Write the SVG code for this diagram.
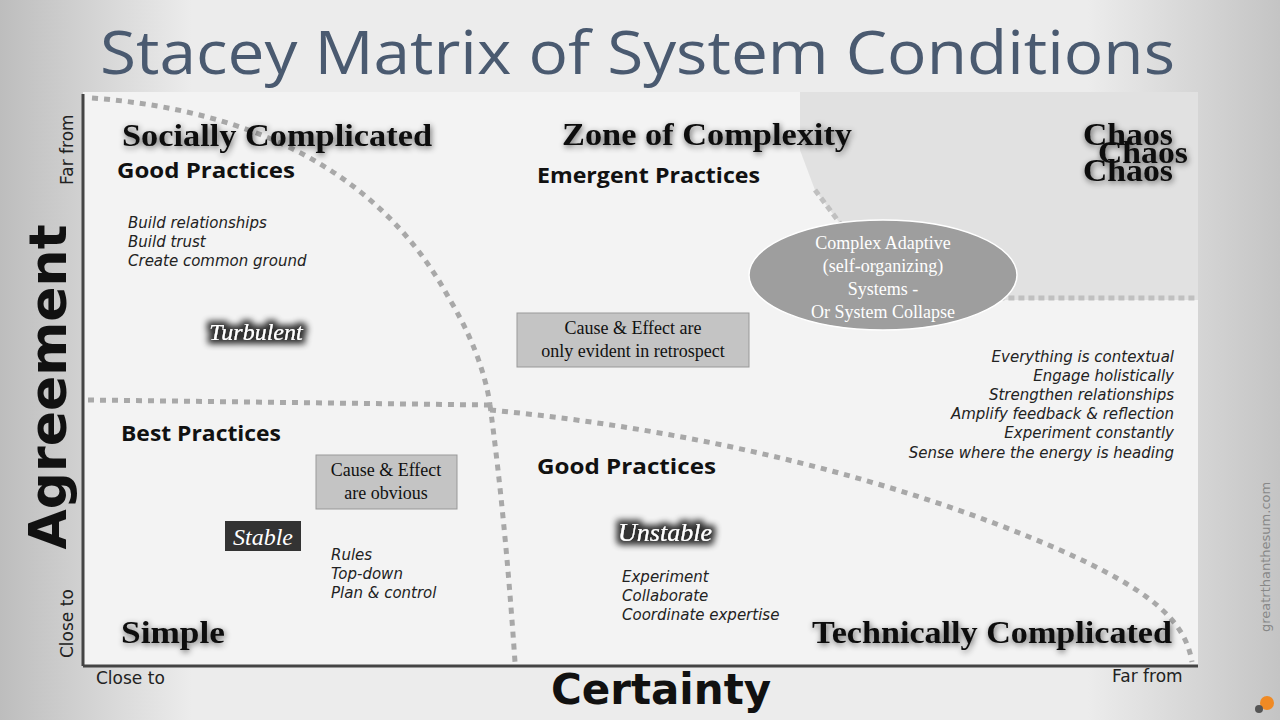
<svg xmlns="http://www.w3.org/2000/svg" width="1280" height="720" viewBox="0 0 1280 720">
<defs>
<linearGradient id="bg" x1="0" y1="0" x2="1" y2="0"><stop offset="0" stop-color="#bdbdbd"/><stop offset="0.15" stop-color="#ececec"/><stop offset="0.85" stop-color="#ececec"/><stop offset="1" stop-color="#c4c4c4"/></linearGradient>
<filter id="glow" x="-20%" y="-40%" width="140%" height="180%"><feGaussianBlur in="SourceAlpha" stdDeviation="3"/><feOffset dx="1" dy="2"/><feComponentTransfer><feFuncA type="linear" slope="0.6"/></feComponentTransfer><feMerge><feMergeNode/><feMergeNode in="SourceGraphic"/></feMerge></filter>
<filter id="dark" x="-30%" y="-50%" width="160%" height="200%"><feMorphology in="SourceAlpha" operator="dilate" radius="4"/><feGaussianBlur stdDeviation="3"/><feComponentTransfer><feFuncA type="linear" slope="0.8"/></feComponentTransfer><feMerge><feMergeNode/><feMergeNode in="SourceGraphic"/></feMerge></filter>
</defs>
<style>
.dash{fill:none;stroke:#a8a8a8;stroke-width:5;stroke-dasharray:6 6}
.big{font-family:"Liberation Serif",serif;font-weight:bold;font-size:31px;fill:#111}
.prac{font-family:"Open Sans","DejaVu Sans",sans-serif;font-weight:bold;font-size:21px;fill:#111}
.it{font-family:"DejaVu Sans",sans-serif;font-style:italic;font-size:15px;fill:#222}
.box{fill:#c4c4c4;stroke:#999;stroke-width:1}
.bt{font-family:"Liberation Serif",serif;font-size:18px;fill:#111;text-anchor:middle}
.ax{font-family:"DejaVu Sans",sans-serif;font-size:17px;fill:#222}
.st{font-family:"Liberation Serif",serif;font-style:italic;font-size:24px;fill:#fff}
</style>
<rect width="1280" height="720" fill="url(#bg)"/>
<text x="100" y="74" textLength="1075" lengthAdjust="spacingAndGlyphs" font-family="'Open Sans','DejaVu Sans',sans-serif" font-size="60" fill="#4a5a70">Stacey Matrix of System Conditions</text>
<g id="panel">
<rect x="83" y="92" width="1115" height="574" fill="#f3f3f3"/>
<path d="M800 92 H1198 V300 H890 L870 270 L845 230 L815 190 L800 150 Z" fill="#dcdcdc" opacity="0.8"/>
<path d="M815 190 L845 230 L870 270 L890 298 H1198" fill="none" stroke="#c0c0c0" stroke-width="5" stroke-dasharray="6 4"/>
<line x1="83" y1="94" x2="83" y2="666" stroke="#444" stroke-width="3"/>
<line x1="83" y1="666" x2="1198" y2="666" stroke="#444" stroke-width="3"/>
</g>
<g id="connectors">
<path class="dash" d="M92 98 C250 110 380 170 450 300 C480 350 488 390 490 405"/>
<path class="dash" d="M88 400 L490 405"/>
<path class="dash" d="M490 405 C500 480 508 560 515 662"/>
<path class="dash" d="M490 410 C700 430 900 480 1060 550 C1150 590 1185 620 1192 662"/>
</g>
<g id="axes-labels">
<text class="ax" transform="translate(73,185) rotate(-90)">Far from</text>
<text class="ax" transform="translate(73,658) rotate(-90)">Close to</text>
<text transform="translate(66,387) rotate(-90)" text-anchor="middle" font-family="'DejaVu Sans',sans-serif" font-weight="bold" font-size="52" fill="#111">Agreement</text>
<text class="ax" x="96" y="684">Close to</text>
<text class="ax" x="1112" y="682">Far from</text>
<text x="661" y="704" text-anchor="middle" font-family="'DejaVu Sans',sans-serif" font-weight="bold" font-size="42" fill="#111">Certainty</text>
<text transform="translate(1270,632) rotate(-90)" font-family="'DejaVu Sans',sans-serif" font-size="13" fill="#888">greatrthanthesum.com</text>
<circle cx="1267" cy="703" r="7" fill="#f08a24"/><circle cx="1259" cy="709" r="4" fill="#555"/>
</g>
<g id="socially"><text class="big" x="122" y="146" textLength="310" lengthAdjust="spacingAndGlyphs" filter="url(#glow)">Socially Complicated</text>
<text class="prac" x="117" y="178" textLength="178" lengthAdjust="spacingAndGlyphs">Good Practices</text>
<text class="it" x="128" y="228">Build relationships</text><text class="it" x="128" y="247">Build trust</text><text class="it" x="128" y="266">Create common ground</text>
<text x="256" y="340" text-anchor="middle" font-family="'Liberation Serif',serif" font-style="italic" font-size="24" fill="#fff" filter="url(#dark)">Turbulent</text></g>
<g id="complexity"><text class="big" x="562" y="145" textLength="290" lengthAdjust="spacingAndGlyphs" filter="url(#glow)">Zone of Complexity</text>
<text class="prac" x="537" y="183" textLength="223" lengthAdjust="spacingAndGlyphs">Emergent Practices</text>
<rect class="box" x="517" y="313" width="232" height="54"/>
<text class="bt" x="633" y="334">Cause &amp; Effect are</text><text class="bt" x="633" y="357">only evident in retrospect</text></g>
<g id="cas"><ellipse cx="883" cy="275" rx="134" ry="55" fill="#9e9e9e" stroke="#fff" stroke-width="1.5"/>
<text x="883" y="249" class="bt" style="fill:#fff">Complex Adaptive</text><text x="883" y="272" class="bt" style="fill:#fff">(self-organizing)</text><text x="883" y="295" class="bt" style="fill:#fff">Systems -</text><text x="883" y="318" class="bt" style="fill:#fff">Or System Collapse</text></g>
<g id="chaos" filter="url(#glow)"><text class="big" x="1083" y="145" textLength="90" lengthAdjust="spacingAndGlyphs">Chaos</text><text class="big" x="1098" y="163" textLength="90" lengthAdjust="spacingAndGlyphs">Chaos</text><text class="big" x="1083" y="181" textLength="90" lengthAdjust="spacingAndGlyphs">Chaos</text></g>
<g id="chaos-list" text-anchor="end"><text class="it" x="1174" y="362">Everything is contextual</text><text class="it" x="1174" y="381">Engage holistically</text><text class="it" x="1174" y="400">Strengthen relationships</text><text class="it" x="1174" y="419">Amplify feedback &amp; reflection</text><text class="it" x="1174" y="438">Experiment constantly</text><text class="it" x="1174" y="458">Sense where the energy is heading</text></g>
<g id="simple"><text class="prac" x="121" y="441" textLength="160" lengthAdjust="spacingAndGlyphs">Best Practices</text>
<rect class="box" x="316" y="455" width="141" height="54"/>
<text class="bt" x="386" y="476">Cause &amp; Effect</text><text class="bt" x="386" y="499">are obvious</text>
<rect x="225" y="521" width="76" height="30" fill="#333"/><text class="st" x="263" y="545" text-anchor="middle">Stable</text>
<text class="it" x="331" y="560">Rules</text><text class="it" x="331" y="579">Top-down</text><text class="it" x="331" y="598">Plan &amp; control</text>
<text class="big" x="121" y="643" textLength="104" lengthAdjust="spacingAndGlyphs" filter="url(#glow)">Simple</text></g>
<g id="technical"><text class="prac" x="537" y="474" textLength="179" lengthAdjust="spacingAndGlyphs">Good Practices</text>
<text x="665" y="541" text-anchor="middle" font-family="'Liberation Serif',serif" font-style="italic" font-size="26" fill="#fff" filter="url(#dark)">Unstable</text>
<text class="it" x="622" y="582">Experiment</text><text class="it" x="622" y="601">Collaborate</text><text class="it" x="622" y="620">Coordinate expertise</text>
<text class="big" x="812" y="643" textLength="360" lengthAdjust="spacingAndGlyphs" filter="url(#glow)">Technically Complicated</text></g>
</svg>
